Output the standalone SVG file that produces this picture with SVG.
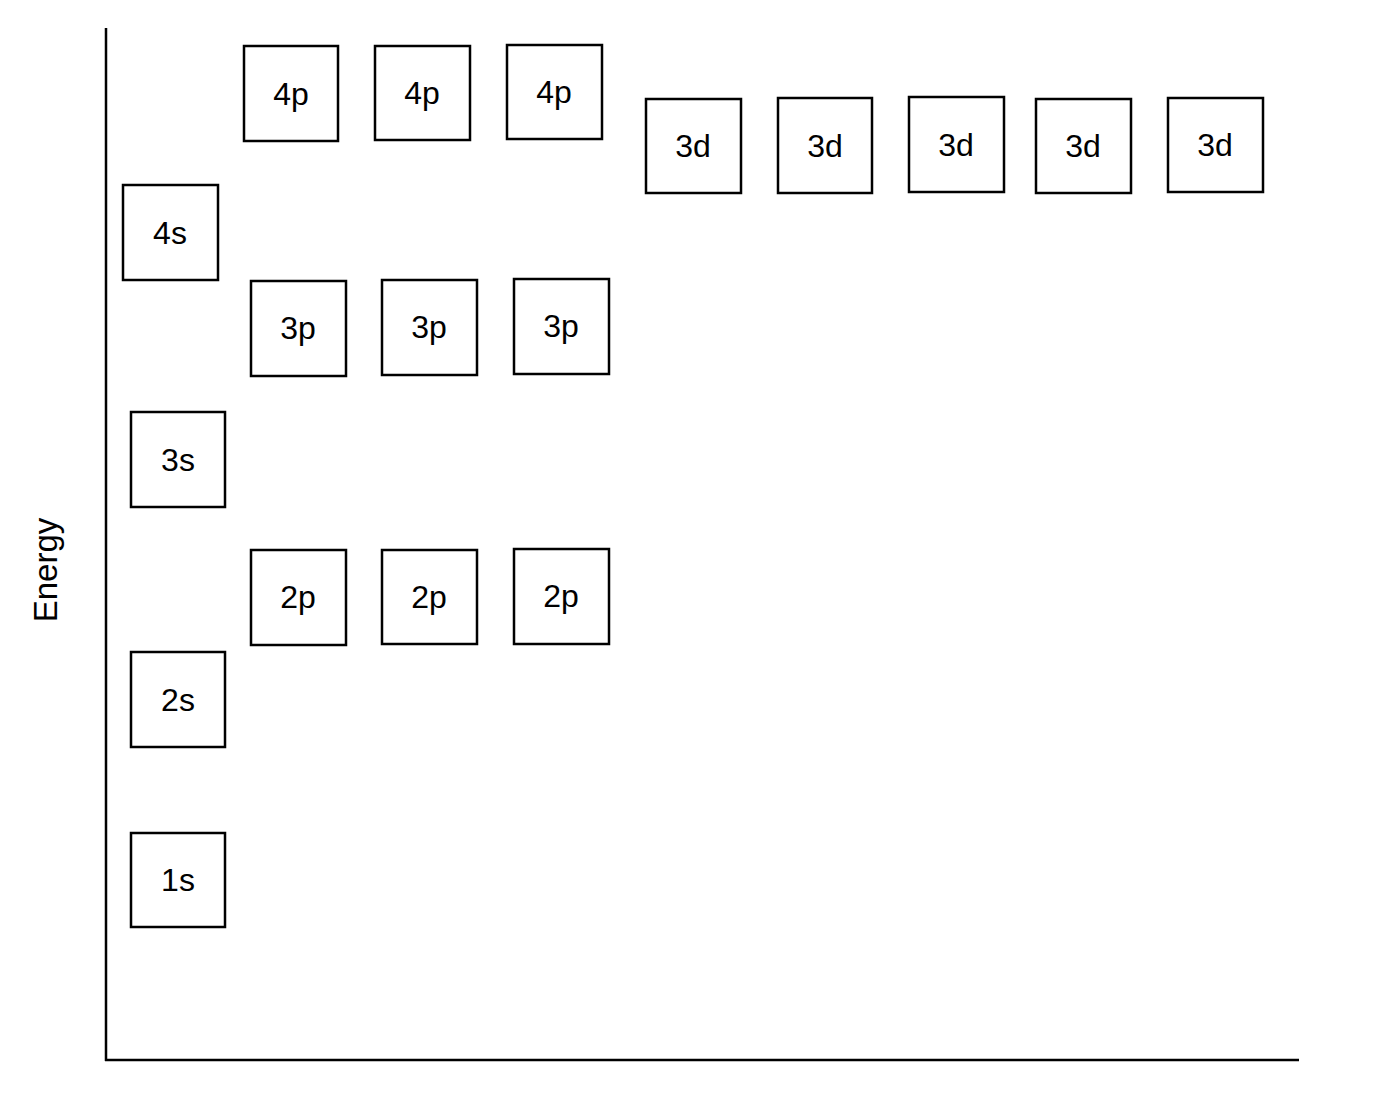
<svg xmlns="http://www.w3.org/2000/svg" width="1376" height="1120" viewBox="0 0 1376 1120">
<style>
rect{fill:#fff;stroke:#000;stroke-width:2.5}
rect.bg{stroke:none}
text{font-family:"Liberation Sans",Arial,sans-serif;font-size:32px;text-anchor:middle;dominant-baseline:central;fill:#000}
line{stroke:#000;stroke-width:2.5}
</style>
<rect class="bg" width="1376" height="1120"/>
<g id="axes"><line x1="106" y1="28" x2="106" y2="1061"/><line x1="105" y1="1060" x2="1299" y2="1060"/></g>
<text id="energy" x="45" y="570" transform="rotate(-90 45 570)" style="font-size:33px">Energy</text>
<g id="p4a"><rect x="244" y="46" width="94" height="95"/><text x="291" y="94">4p</text></g>
<g id="p4b"><rect x="375" y="46" width="95" height="94"/><text x="422" y="93">4p</text></g>
<g id="p4c"><rect x="507" y="45" width="95" height="94"/><text x="554" y="92">4p</text></g>
<g id="d3a"><rect x="646" y="99" width="95" height="94"/><text x="693" y="146">3d</text></g>
<g id="d3b"><rect x="778" y="98" width="94" height="95"/><text x="825" y="146">3d</text></g>
<g id="d3c"><rect x="909" y="97" width="95" height="95"/><text x="956" y="145">3d</text></g>
<g id="d3d"><rect x="1036" y="99" width="95" height="94"/><text x="1083" y="146">3d</text></g>
<g id="d3e"><rect x="1168" y="98" width="95" height="94"/><text x="1215" y="145">3d</text></g>
<g id="s4"><rect x="123" y="185" width="95" height="95"/><text x="170" y="233">4s</text></g>
<g id="p3a"><rect x="251" y="281" width="95" height="95"/><text x="298" y="328">3p</text></g>
<g id="p3b"><rect x="382" y="280" width="95" height="95"/><text x="429" y="327">3p</text></g>
<g id="p3c"><rect x="514" y="279" width="95" height="95"/><text x="561" y="326">3p</text></g>
<g id="s3"><rect x="131" y="412" width="94" height="95"/><text x="178" y="460">3s</text></g>
<g id="p2a"><rect x="251" y="550" width="95" height="95"/><text x="298" y="597">2p</text></g>
<g id="p2b"><rect x="382" y="550" width="95" height="94"/><text x="429" y="597">2p</text></g>
<g id="p2c"><rect x="514" y="549" width="95" height="95"/><text x="561" y="596">2p</text></g>
<g id="s2"><rect x="131" y="652" width="94" height="95"/><text x="178" y="700">2s</text></g>
<g id="s1"><rect x="131" y="833" width="94" height="94"/><text x="178" y="880">1s</text></g>
</svg>
